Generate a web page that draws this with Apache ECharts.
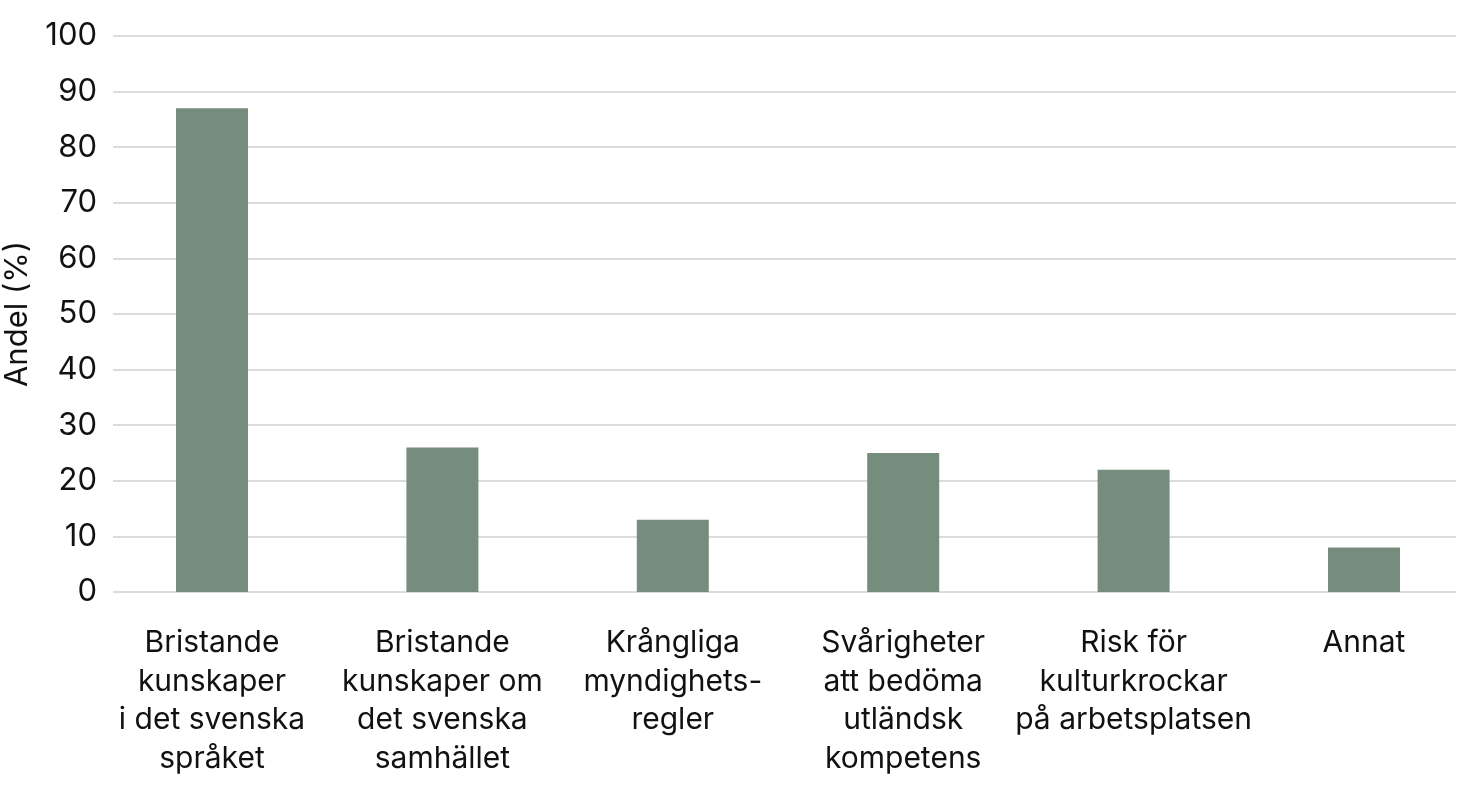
<!DOCTYPE html>
<html>
<head>
<meta charset="utf-8">
<script src="https://cdn.jsdelivr.net/npm/echarts@6/dist/echarts.min.js"></script>
<style>
  html, body { margin: 0; padding: 0; background: #fff; overflow: hidden; }
  #chart { width: 1500px; height: 788px; }
</style>
</head>
<body>
<div id="chart"></div>
<script>
// kategorier och andelar (%)
var categories = [
  'Bristande\nkunskaper\ni det svenska\nspråket',
  'Bristande\nkunskaper om\ndet svenska\nsamhället',
  'Krångliga\nmyndighets-\nregler',
  'Svårigheter\natt bedöma\nutländsk\nkompetens',
  'Risk för\nkulturkrockar\npå arbetsplatsen',
  'Annat'
]
var values = [87, 26, 13, 25, 22, 8]
var yTicks = { min: 0, max: 100, interval: 10 }

var font = 'Inter, "Liberation Sans", sans-serif'
var chart = echarts.init(document.getElementById('chart'))

var option = {
  backgroundColor: '#fff',
  animation: false,
  textStyle: { fontFamily: font },
  grid: [
    // gridlinjer + y-axel
    { left: 113, right: 44, top: 36, bottom: 196, outerBoundsMode: 'none', containLabel: false },
    // staplar (lite förskjutna mot gridlinjerna, som i originalet)
    { left: 96.8, width: 1382.4, top: 36, bottom: 196, outerBoundsMode: 'none', containLabel: false }
  ],
  xAxis: [
    {
      type: 'category',
      gridIndex: 0,
      data: categories,
      show: false
    },
    {
      type: 'category',
      gridIndex: 1,
      data: categories,
      axisLine: { show: false },
      axisTick: { show: false },
      axisLabel: {
        interval: 0,
        margin: 32,
        fontSize: 30,
        lineHeight: 38.5,
        color: '#111',
        fontFamily: font
      }
    }
  ],
  yAxis: [
    {
      type: 'value',
      gridIndex: 0,
      min: yTicks.min,
      max: yTicks.max,
      interval: yTicks.interval,
      name: 'Andel (%)',
      nameLocation: 'middle',
      nameGap: 80,
      nameTextStyle: { fontSize: 31, color: '#111', fontFamily: font },
      axisLine: { show: false },
      axisTick: { show: false },
      axisLabel: { fontSize: 31, color: '#111', margin: 16, fontFamily: font },
      splitLine: { lineStyle: { color: '#d0d0d0', width: 1.5 } }
    },
    {
      type: 'value',
      gridIndex: 1,
      min: yTicks.min,
      max: yTicks.max,
      interval: yTicks.interval,
      show: false,
      splitLine: { show: false }
    }
  ],
  series: [
    {
      type: 'bar',
      xAxisIndex: 1,
      yAxisIndex: 1,
      data: values,
      barWidth: 72,
      itemStyle: { color: '#768d7d' }
    }
  ]
}
chart.setOption(option)
</script>
</body>
</html>
